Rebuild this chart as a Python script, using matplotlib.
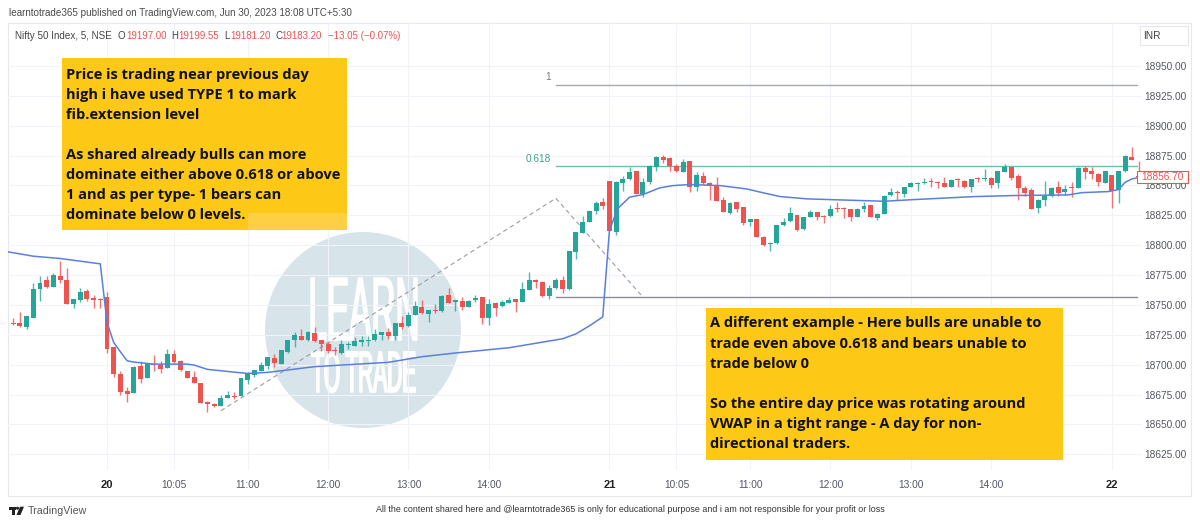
import matplotlib
matplotlib.use("Agg")
import matplotlib.pyplot as plt
from matplotlib.patches import Circle, Polygon, Rectangle
from matplotlib.patheffects import AbstractPathEffect
from matplotlib.transforms import Affine2D

GREEN = "#26a69a"
RED = "#ef5350"
YELLOW = "#fec816"
W, H = 1200, 525
SMALL = ["Liberation Sans", "DejaVu Sans"]

plt.rcParams["font.family"] = ["Open Sans", "DejaVu Sans"]

# bars counted from the first 5 min candle of the 20th
first_bar = -14
opens = [
    18735.1, 18734.8, 18731.4, 18739.3, 18763.0, 18770.8, 18765.2, 18774.1, 18771.3, 18750.4,
    18754.0, 18761.3, 18755.7, 18755.1, 18756.8, 18714.5, 18691.9, 18678.2, 18676.3, 18698.9,
    18689.1, 18700.5, 18699.7, 18696.9, 18709.2, 18703.0, 18695.0, 18689.4, 18684.4, 18668.5,
    18667.1, 18665.7, 18672.1, 18673.8, 18674.0, 18687.4, 18691.3, 18695.0, 18699.1, 18705.8,
    18700.8, 18710.6, 18720.9, 18724.3, 18720.7, 18726.2, 18720.4, 18717.6, 18711.7, 18709.5,
    18716.5, 18715.9, 18719.3, 18719.5, 18720.4, 18724.8, 18727.3, 18723.7, 18735.1, 18732.4,
    18741.6, 18748.0, 18742.7, 18745.7, 18745.2, 18758.0, 18752.4, 18753.5, 18748.2, 18754.1,
    18756.3, 18739.3, 18751.3, 18748.8, 18751.6, 18754.7, 18752.7, 18762.5, 18771.1, 18769.4,
    18757.4, 18764.4, 18771.3, 18763.0, 18794.5, 18810.6, 18819.8, 18828.7, 18836.3, 18853.5,
    18810.9, 18852.1, 18855.2, 18861.9, 18842.7, 18853.0, 18865.2, 18873.9, 18872.8, 18866.6,
    18861.6, 18870.5, 18849.1, 18858.3, 18851.9, 18849.6, 18837.9, 18827.3, 18836.0, 18832.1,
    18819.5, 18822.3, 18807.0, 18801.1, 18801.7, 18817.3, 18820.1, 18825.7, 18813.7, 18823.7,
    18827.9, 18824.8, 18824.3, 18830.9, 18830.9, 18830.1, 18824.0, 18830.7, 18833.8, 18822.9,
    18826.2, 18842.1, 18844.9, 18843.2, 18848.8, 18851.0, 18852.1, 18853.5, 18853.2, 18852.4,
    18849.1, 18855.5, 18854.1, 18849.1, 18855.8, 18855.2, 18856.0, 18852.1, 18861.6, 18865.8,
    18857.7, 18848.2, 18846.3, 18830.9, 18838.2, 18841.5, 18849.1, 18844.9, 18849.1, 18848.2,
    18865.0, 18861.9, 18859.9, 18852.4, 18858.8, 18846.6, 18861.9, 18873.9, 18858.0,
]
highs = [
    18739.3, 18744.0, 18740.7, 18768.0, 18774.1, 18774.1, 18776.9, 18786.6, 18780.8, 18755.1,
    18763.8, 18763.2, 18758.2, 18755.7, 18761.0, 18714.5, 18695.0, 18681.0, 18698.9, 18703.3,
    18700.8, 18708.3, 18703.3, 18712.8, 18712.2, 18703.9, 18695.0, 18694.4, 18684.4, 18669.9,
    18668.2, 18674.6, 18678.2, 18677.4, 18688.5, 18694.1, 18695.2, 18701.9, 18706.4, 18708.6,
    18712.5, 18721.1, 18727.3, 18729.6, 18728.2, 18731.8, 18720.4, 18718.7, 18715.1, 18720.7,
    18719.3, 18722.9, 18724.0, 18724.0, 18729.6, 18727.6, 18730.4, 18735.1, 18740.7, 18744.3,
    18753.5, 18754.1, 18745.7, 18750.5, 18758.3, 18764.1, 18754.1, 18756.9, 18754.1, 18758.3,
    18756.9, 18754.7, 18752.7, 18754.1, 18756.3, 18754.7, 18769.4, 18777.2, 18771.7, 18770.0,
    18766.3, 18772.7, 18774.1, 18795.3, 18810.9, 18824.8, 18829.0, 18837.4, 18839.3, 18853.5,
    18853.5, 18858.0, 18865.8, 18862.5, 18856.3, 18867.2, 18875.0, 18875.6, 18874.2, 18868.0,
    18872.2, 18870.5, 18861.1, 18861.3, 18852.7, 18856.9, 18840.2, 18836.3, 18836.5, 18832.4,
    18822.3, 18822.3, 18807.3, 18802.5, 18817.3, 18822.9, 18831.8, 18825.7, 18824.0, 18829.6,
    18828.2, 18825.1, 18834.0, 18836.0, 18832.1, 18830.4, 18831.2, 18836.0, 18834.0, 18826.8,
    18842.1, 18848.0, 18846.3, 18849.1, 18852.7, 18852.7, 18856.6, 18856.0, 18853.5, 18857.4,
    18855.5, 18856.0, 18854.7, 18855.8, 18857.4, 18864.1, 18857.4, 18862.5, 18868.0, 18866.6,
    18859.7, 18849.9, 18848.0, 18838.5, 18853.5, 18849.1, 18854.1, 18850.7, 18852.7, 18865.2,
    18866.1, 18865.8, 18860.2, 18862.5, 18859.1, 18862.5, 18875.8, 18882.5, 18870.8,
]
lows = [
    18733.1, 18731.7, 18730.1, 18739.3, 18753.2, 18764.6, 18765.2, 18768.5, 18750.4, 18747.1,
    18752.1, 18753.5, 18747.6, 18747.1, 18710.0, 18689.4, 18674.6, 18669.0, 18676.0, 18684.4,
    18689.1, 18694.4, 18692.7, 18696.9, 18701.1, 18695.0, 18688.8, 18684.9, 18667.6, 18660.7,
    18664.3, 18665.7, 18671.8, 18671.0, 18673.8, 18683.5, 18689.9, 18694.7, 18696.1, 18697.7,
    18700.5, 18709.4, 18714.5, 18720.7, 18720.1, 18719.3, 18711.7, 18709.5, 18708.4, 18708.9,
    18712.8, 18715.4, 18715.6, 18715.6, 18720.1, 18720.7, 18721.2, 18720.7, 18729.6, 18731.8,
    18741.3, 18742.4, 18735.7, 18742.9, 18744.1, 18751.3, 18745.2, 18745.7, 18748.0, 18752.7,
    18734.0, 18733.2, 18741.0, 18748.5, 18751.3, 18744.1, 18752.1, 18762.5, 18764.4, 18756.9,
    18755.2, 18763.5, 18759.9, 18762.7, 18788.6, 18810.1, 18819.5, 18826.2, 18830.4, 18811.5,
    18808.9, 18845.7, 18854.7, 18842.9, 18840.7, 18851.3, 18861.9, 18868.6, 18862.5, 18861.6,
    18861.3, 18844.9, 18845.7, 18851.3, 18838.2, 18836.8, 18828.2, 18826.2, 18827.6, 18817.3,
    18815.9, 18806.7, 18799.7, 18795.0, 18801.4, 18816.5, 18819.8, 18812.3, 18813.1, 18823.4,
    18820.7, 18818.7, 18824.0, 18827.6, 18822.9, 18820.1, 18823.4, 18827.6, 18823.4, 18820.7,
    18825.9, 18841.3, 18837.9, 18840.2, 18848.5, 18845.2, 18851.3, 18848.5, 18847.7, 18848.5,
    18848.5, 18848.5, 18848.0, 18844.3, 18852.7, 18853.5, 18847.7, 18848.0, 18861.1, 18854.7,
    18838.2, 18841.6, 18830.1, 18827.1, 18832.6, 18840.2, 18841.5, 18842.1, 18840.2, 18848.0,
    18855.5, 18855.5, 18849.9, 18852.1, 18830.9, 18835.1, 18861.3, 18871.1, 18855.5,
]
closes = [
    18733.7, 18732.0, 18740.7, 18763.0, 18768.5, 18764.9, 18774.7, 18770.8, 18750.4, 18755.1,
    18760.7, 18755.1, 18754.0, 18753.8, 18713.3, 18691.9, 18677.4, 18675.7, 18698.3, 18688.0,
    18700.8, 18699.4, 18696.6, 18709.2, 18702.2, 18695.2, 18688.8, 18684.9, 18667.9, 18666.8,
    18665.4, 18672.1, 18674.6, 18672.9, 18688.5, 18692.7, 18695.2, 18700.0, 18706.4, 18701.1,
    18712.5, 18720.3, 18724.8, 18720.7, 18727.6, 18719.8, 18717.6, 18711.7, 18711.2, 18717.3,
    18717.3, 18719.5, 18720.7, 18720.4, 18725.9, 18727.1, 18724.0, 18735.1, 18731.2, 18741.3,
    18749.1, 18743.2, 18745.7, 18744.6, 18757.7, 18751.6, 18754.1, 18748.0, 18753.5, 18755.5,
    18738.8, 18750.5, 18747.7, 18752.4, 18754.1, 18752.1, 18763.6, 18771.1, 18768.9, 18757.2,
    18764.1, 18770.8, 18763.0, 18795.3, 18810.9, 18819.5, 18829.0, 18835.1, 18832.9, 18811.7,
    18852.7, 18855.5, 18861.6, 18843.2, 18853.0, 18866.4, 18873.6, 18871.7, 18866.1, 18861.9,
    18869.7, 18849.1, 18858.6, 18852.1, 18849.4, 18837.1, 18828.2, 18835.7, 18830.7, 18819.0,
    18821.8, 18807.0, 18800.3, 18802.0, 18816.7, 18819.5, 18826.8, 18812.6, 18823.7, 18827.9,
    18823.2, 18823.7, 18830.1, 18830.4, 18830.4, 18823.2, 18830.7, 18833.2, 18823.7, 18826.2,
    18841.5, 18844.9, 18843.5, 18848.8, 18851.9, 18852.4, 18853.2, 18852.7, 18851.9, 18849.1,
    18854.9, 18854.7, 18848.5, 18855.5, 18855.2, 18855.8, 18850.2, 18862.2, 18865.2, 18856.6,
    18848.0, 18844.1, 18830.4, 18837.9, 18841.0, 18848.2, 18843.5, 18846.8, 18848.2, 18864.4,
    18861.1, 18859.9, 18853.2, 18861.9, 18845.7, 18861.9, 18875.0, 18871.7, 18856.7,
]

vwap_bars = [-14.7, -11, -7, -1, 0, 1, 2, 3, 4, 7, 12, 13, 15, 19, 21, 24, 28, 31, 42, 47, 52, 60, 68,
             70, 72, 74, 75, 76.2, 78, 80, 82.5, 84.5, 87, 91.5, 95.5, 98, 100.5, 104.5, 109.5,
             116, 120.5, 129.5, 135.5, 143.5, 145.5, 149.5, 151, 152, 153, 154]
vwap_vals = [18794.4, 18790.8, 18788.9, 18784.4, 18735.4, 18718.6, 18710.8, 18703.3, 18702.2, 18700.5,
             18700.5, 18699.7, 18696.1, 18693.8, 18692.7, 18693.6, 18696.3, 18698.4, 18702.0, 18706.7,
             18709.8, 18714.2, 18721.7, 18725.8, 18732.5, 18740.0, 18812.3, 18830.4, 18840.2, 18842.4,
             18848.0, 18849.9, 18850.8, 18849.9, 18847.1, 18843.8, 18840.7, 18838.8, 18837.9,
             18836.8, 18838.2, 18840.7, 18841.6, 18842.1, 18844.0, 18844.9, 18846.6, 18852.7, 18855.5, 18856.6]

fib_bars = [17, 67, 80]
fib_prices = [18661.5, 18839.3, 18756.6]
fib_levels = ["0", "0.618", "1"]
fib_values = [18756.6, 18866.5, 18934.4]
fib_colors = ["#8a8d96", "#6fbfae", "#a8aab0"]
fib_label_colors = ["#787b86", "#3f9f8f", "#787b86"]

price_ticks = list(range(18625, 18951, 25))
time_bars = [0, 10, 21, 33, 45, 57, 75, 85, 96, 108, 120, 132, 150]
time_labels = ["20", "10:05", "11:00", "12:00", "13:00", "14:00", "21", "10:05", "11:00", "12:00", "13:00", "14:00", "22"]

note_1 = ("Price is trading near previous day\nhigh i have used TYPE 1 to mark\nfib.extension level\n\n"
          "As shared already bulls can more\ndominate either above 0.618 or above\n"
          "1 and as per type- 1 bears can\ndominate below 0 levels.")
note_2 = ("A different example - Here bulls are unable to\ntrade even above 0.618 and bears unable to\n"
          "trade below 0\n\nSo the entire day price was rotating around\nVWAP in a tight range - A day for non-\n"
          "directional traders.")


class StretchY(AbstractPathEffect):
    # watermark letters are much taller than any installed font
    def __init__(self, y0, factor):
        super().__init__()
        self.y0, self.factor = y0, factor

    def draw_path(self, renderer, gc, tpath, affine, rgbFace=None):
        stretch = Affine2D().translate(0, -self.y0).scale(1, self.factor).translate(0, self.y0)
        gc.set_linewidth(1.2)
        gc.set_foreground("white")
        renderer.draw_path(gc, tpath, affine + stretch, rgbFace)


def fx(px):
    return px / W


def fy(py):
    return 1 - py / H


fig = plt.figure(figsize=(W / 100, H / 100), dpi=100, facecolor="white")
ax = fig.add_axes([fx(8), fy(470), fx(1142 - 8), (470 - 22) / H])
ax.set_xlim(-14.78, 154.5)
ax.set_ylim(18611.9, 18986.8)
ax.set_facecolor("white")

ax.yaxis.tick_right()
ax.set_yticks(price_ticks, [f"{p:.2f}" for p in price_ticks])
ax.set_xticks(time_bars, time_labels)
ax.tick_params(length=0, labelsize=7.3, labelcolor="#555861", labelfontfamily=SMALL)
ax.tick_params(axis="y", pad=1.5)
ax.tick_params(axis="x", pad=7)
for tick, label in zip(ax.get_xticklabels(), time_labels):
    if len(label) == 2:
        tick.set_fontweight("bold")
        tick.set_fontsize(8)
        tick.set_color("#222222")
ax.grid(color="#f0f3fa", lw=0.8)
ax.set_axisbelow(True)
for spine in ax.spines.values():
    spine.set_visible(False)

# outer frame, goes round the price and time scales too
fig.add_artist(Rectangle((fx(8), fy(495.5)), fx(1191 - 8), (495.5 - 22.5) / H, fill=False, ec="#e6e8ee", lw=0.8))

# watermark
circle_ax = fig.add_axes([0, 0, 1, 1], zorder=0.5)
circle_ax.set_xlim(0, W)
circle_ax.set_ylim(H, 0)
circle_ax.axis("off")
circle_ax.add_patch(Circle((363, 330), 98, fc="#d7e4ea", ec="none"))
circle_ax.text(364, 340, "LEARN", family=SMALL, fontsize=24, color="white",
               ha="center", va="baseline", path_effects=[StretchY(H - 340, 2.7)])
circle_ax.text(364, 392, "TO TRADE", family=SMALL, fontsize=15, color="white",
               ha="center", va="baseline", path_effects=[StretchY(H - 392, 2.8)])
ax.set_zorder(1)
ax.patch.set_visible(False)

# candles
for n, (o, h, l, c) in enumerate(zip(opens, highs, lows, closes)):
    bar = first_bar + n
    color = GREEN if c >= o else RED
    ax.vlines(bar, l, h, color=color, lw=1, alpha=0.8, zorder=3)
    ax.bar(bar, max(abs(c - o), 0.8), bottom=min(o, c), width=0.74, color=color, zorder=3)

ax.plot(vwap_bars, vwap_vals, color="#5b7fdc", lw=1.1, zorder=4)

# fib extension
ax.plot(fib_bars, fib_prices, color="#9a9da5", lw=0.8, ls=(0, (4, 3)), zorder=2.5)
for level, value, color, text_color in zip(fib_levels, fib_values, fib_colors, fib_label_colors):
    ax.plot([fib_bars[1], 153.7], [value, value], color=color, lw=1, zorder=2.5)
    if level != "0":
        ax.text(fib_bars[1] - 0.7, value + 6, level, color=text_color, fontsize=7.3, family=SMALL,
                ha="right", va="center")

# yellow notes on top of everything
top = fig.add_axes([0, 0, 1, 1], zorder=2)
top.set_xlim(0, W)
top.set_ylim(H, 0)
top.axis("off")
top.add_patch(Rectangle((62, 58), 285, 172, fc=YELLOW, ec="none"))
top.add_patch(Rectangle((248, 213), 99, 17, fc="#fdd044", ec="none"))
top.text(66, 67.5, note_1, fontsize=10.5, fontweight="bold", color="#111111", va="top", linespacing=1.555)
top.add_patch(Rectangle((706, 307.5), 357, 152, fc=YELLOW, ec="none"))
top.text(710, 316.5, note_2, fontsize=10.5, fontweight="bold", color="#111111", va="top", linespacing=1.555)

# last price tag and currency button
top.add_patch(Rectangle((1137, 171), 51, 12, fc="white", ec=RED, lw=0.8))
top.text(1162.5, 177, "18856.70", fontsize=7.3, family=SMALL, color=RED, ha="center", va="center")
top.add_patch(Rectangle((1140, 26), 48, 19, fc="white", ec="#e4e6ec", lw=0.8))
top.text(1143.5, 36, "INR", fontsize=7.3, family=SMALL, color="#444444", va="center")

# header
top.text(9, 13, "learntotrade365 published on TradingView.com, Jun 30, 2023 18:08 UTC+5:30",
         fontsize=7.15, family=SMALL, color="#4a4a4a", va="center")
top.text(15, 36, "Nifty 50 Index, 5, NSE", fontsize=7.1, family=SMALL, color="#444444", va="center")
legend_x = [118, 126, 171, 178, 224, 230, 275, 281, 328]
legend_s = ["O", "19197.00", "H", "19199.55", "L", "19181.20", "C", "19183.20", "−13.05 (−0.07%)"]
for x, s in zip(legend_x, legend_s):
    top.text(x, 36, s, fontsize=7.0, family=SMALL, color="#444444" if len(s) == 1 else RED, va="center")

# footer
top.add_patch(Rectangle((8.5, 506.7), 7, 3, fc="#222222"))
top.add_patch(Rectangle((11.5, 506.7), 3.5, 8.3, fc="#222222"))
top.add_patch(Circle((17.5, 508.2), 1.5, fc="#222222"))
top.add_patch(Polygon([[20, 506.7], [24, 506.7], [20.5, 515], [16.5, 515]], fc="#222222"))
top.text(28, 510.5, "TradingView", fontsize=7.7, family=SMALL, color="#555555", va="center")
top.text(376, 510, "All the content shared here and @learntotrade365 is only for educational purpose "
         "and i am not responsible for your profit or loss", fontsize=6.4, family=SMALL, color="#333333",
         va="center")

fig.savefig("out.png", dpi=100)
